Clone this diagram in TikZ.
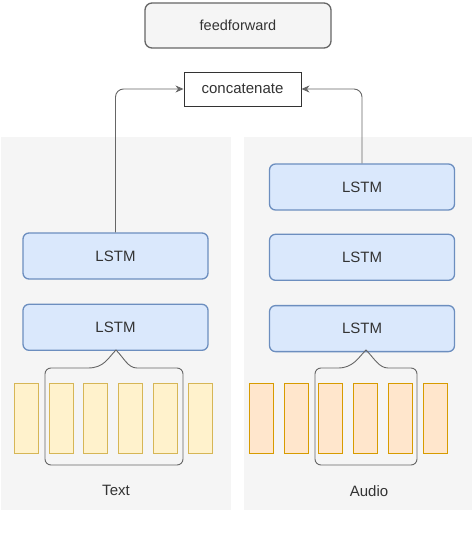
\documentclass[tikz,border=0pt]{standalone}
\usepackage{fontspec}
\setmainfont{Liberation Sans}
\usetikzlibrary{positioning,arrows.meta}

\definecolor{lstmFill}{HTML}{DAE8FC}
\definecolor{lstmDraw}{HTML}{6C8EBF}
\definecolor{textFill}{HTML}{FFF2CC}
\definecolor{textDraw}{HTML}{D6B656}
\definecolor{audioFill}{HTML}{FFE6CC}
\definecolor{audioDraw}{HTML}{D79B00}
\definecolor{panelFill}{HTML}{F5F5F5}
\definecolor{inkGray}{HTML}{333333}
\definecolor{lineGray}{HTML}{666666}

\begin{document}
\begin{tikzpicture}[
        x=1pt, y=-1pt,
        panel/.style={
                rectangle,
                fill=panelFill,
                draw=none,
                minimum height=373pt
            },
        lstm/.style={
                rectangle,
                rounded corners=6pt,
                draw=lstmDraw,
                fill=lstmFill,
                line width=1.3pt,
                minimum width=185pt,
                minimum height=46pt,
                text=inkGray,
                font=\fontsize{15}{18}\selectfont
            },
        textbar/.style={
                rectangle,
                draw=textDraw,
                fill=textFill,
                minimum width=24pt,
                minimum height=70pt
            },
        audiobar/.style={
                rectangle,
                draw=audioDraw,
                fill=audioFill,
                minimum width=24pt,
                minimum height=70pt
            },
        caption/.style={text=inkGray, font=\fontsize{15}{18}\selectfont},
        window/.style={draw=lineGray, line width=0.9pt, rounded corners=6pt},
        conn/.style={draw=lineGray, line width=0.9pt, rounded corners=8pt},
        >={Stealth[length=8pt,width=7pt,inset=2.5pt]}
    ]
    \useasboundingbox (0,0) rectangle (474,540);

    % background panels
    \node[panel, minimum width=230pt] (textPanel) at (116,323.5) {};
    \node[panel, minimum width=228pt] (audioPanel) at (358,323.5) {};

    % top of the network
    \node[rectangle, rounded corners=7pt, draw=lineGray, fill=panelFill, line width=1.3pt,
          minimum width=186pt, minimum height=45pt, text=inkGray,
          font=\fontsize{14.5}{17}\selectfont] (feedforward) at (238,25.5) {feedforward};
    \node[rectangle, draw=inkGray, fill=white, line width=0.9pt, minimum width=117pt,
          minimum height=34pt, text=inkGray, font=\fontsize{15}{18}\selectfont] (concat) at (242.5,89) {concatenate};

    % text branch
    \node[lstm] (textLSTM2) at (115.5,256) {LSTM};
    \node[lstm] (textLSTM1) [below=24pt of textLSTM2] {LSTM};
    \foreach \i in {0,...,5}
        \node[textbar] (textBar\i) at ({26+34.8*\i},418) {};
    \node[caption] (textCaption) at (116,490) {Text};

    % audio branch
    \node[lstm] (audioLSTM3) at (362,187) {LSTM};
    \node[lstm] (audioLSTM2) [below=23pt of audioLSTM3] {LSTM};
    \node[lstm] (audioLSTM1) [below=24pt of audioLSTM2] {LSTM};
    \foreach \i in {0,...,5}
        \node[audiobar] (audioBar\i) at ({261+34.8*\i},418) {};
    \node[caption] (audioCaption) at (369,491) {Audio};

    % input windows
    \path[window] (88,368) -- (45,368) -- (45,465) -- (183,465) -- (183,368) -- (143,368)
        [sharp corners] .. controls (128,368) and (124,358) .. (116,350)
        .. controls (108,358) and (104,368) .. (88,368) -- cycle;
    \path[window] (338,368) -- (315,368) -- (315,465) -- (417,465) -- (417,368) -- (394,368)
        [sharp corners] .. controls (379,368) and (374,358) .. (366,350)
        .. controls (358,358) and (353,368) .. (338,368) -- cycle;

    % outputs to concatenate
    \path[conn, ->] (textLSTM2.north) |- (concat.west);
    \path[conn, ->] (audioLSTM3.north) |- (concat.east);
\end{tikzpicture}
\end{document}
